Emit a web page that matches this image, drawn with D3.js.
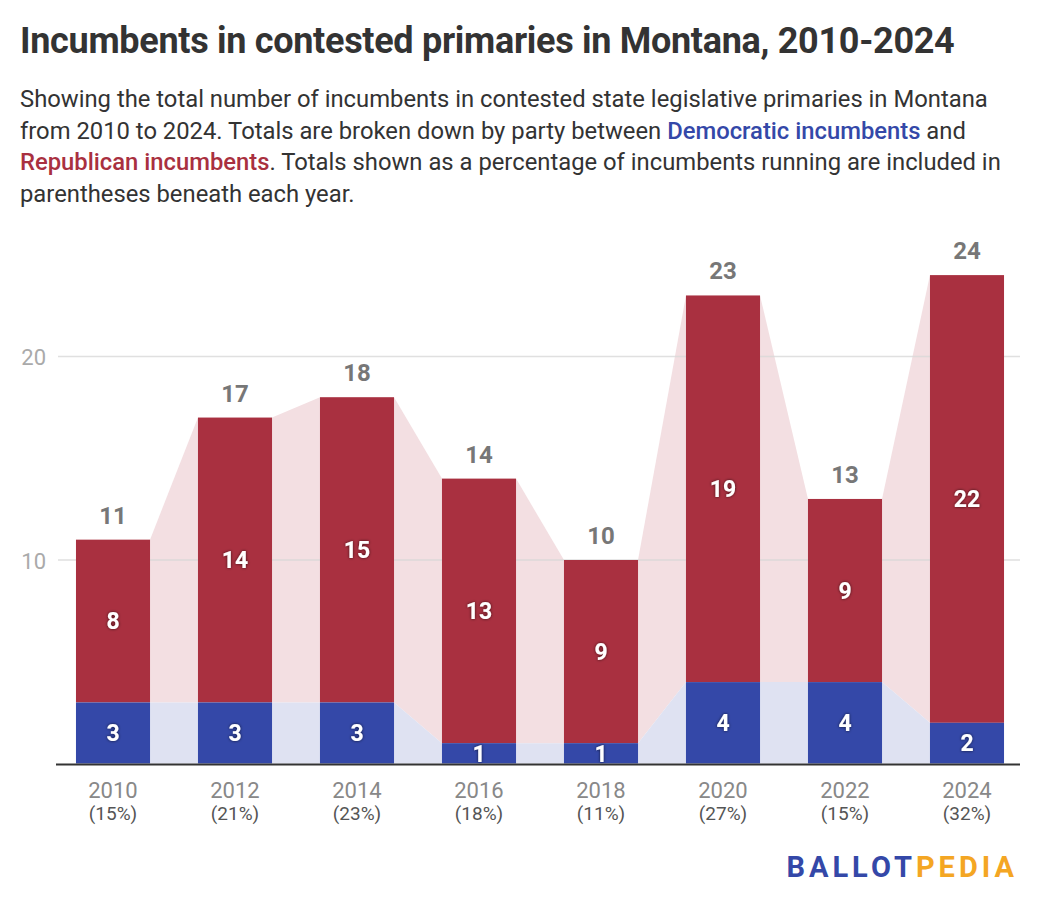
<!DOCTYPE html>
<html>
<head>
<meta charset="utf-8">
<script src="https://cdn.jsdelivr.net/npm/d3@7"></script>
<style>
  body { margin: 0; background: #fff; font-family: Roboto, "Noto Sans", sans-serif; }
  #chart { width: 1040px; height: 912px; position: relative; }
  h1 { position: absolute; left: 20px; top: 20px; margin: 0; font-size: 36px; font-weight: 700; color: #333; letter-spacing: -0.3px; white-space: nowrap; }
  .sub { position: absolute; left: 20px; top: 84px; width: 1000px; margin: 0; font-size: 23.8px; line-height: 31.5px; color: #333; }
  .dem { color: #3448a8; font-weight: 500; }
  .rep { color: #a93040; font-weight: 500; }
  svg { position: absolute; left: 0; top: 0; }
</style>
</head>
<body>
<div id="chart">
  <h1>Incumbents in contested primaries in Montana, 2010-2024</h1>
  <p class="sub">Showing the total number of incumbents in contested state legislative primaries in Montana from 2010 to 2024. Totals are broken down by party between <span class="dem">Democratic incumbents</span> and <span class="rep">Republican incumbents</span>. Totals shown as a percentage of incumbents running are included in parentheses beneath each year.</p>
</div>
<script>
document.addEventListener("DOMContentLoaded", function() {
    const years = ["2010", "2012", "2014", "2016", "2018", "2020", "2022", "2024"];
    const demValues = [3, 3, 3, 1, 1, 4, 4, 2];
    const repValues = [8, 14, 15, 13, 9, 19, 9, 22];
    const pctLabels = ["15%", "21%", "23%", "18%", "11%", "27%", "15%", "32%"];
    const yTicks = [10, 20];

    const data = years.map((yr, i) => ({
        year: yr, dem: demValues[i], rep: repValues[i],
        total: demValues[i] + repValues[i], pct: pctLabels[i]
    }));

    const demColor = "#3448a8", repColor = "#a93040";
    const demArea = "#dfe2f2", repArea = "#f3dfe2";

    const svg = d3.select("#chart").append("svg")
        .attr("width", 1040)
        .attr("height", 912);

    const x = d3.scaleBand()
        .domain(years)
        .range([52, 1028])
        .paddingInner(0.393)
        .paddingOuter(0.1965);

    const y = d3.scaleLinear()
        .domain([0, 20])
        .range([763.5, 356.5]);

    const bw = x.bandwidth();

    // connector areas between bars
    for (let i = 0; i < data.length - 1; i++) {
        const a = data[i], b = data[i + 1];
        const x0 = x(a.year) + bw, x1 = x(b.year);
        svg.append("path")
            .attr("fill", repArea)
            .attr("d", `M${x0},${y(a.total)}L${x1},${y(b.total)}L${x1},${y(b.dem)}L${x0},${y(a.dem)}Z`);
        svg.append("path")
            .attr("fill", demArea)
            .attr("d", `M${x0},${y(a.dem)}L${x1},${y(b.dem)}L${x1},${y(0)}L${x0},${y(0)}Z`);
    }

    // gridlines
    svg.append("g")
        .selectAll("line")
        .data(yTicks)
        .enter().append("line")
        .attr("x1", 58).attr("x2", 1020)
        .attr("y1", d => y(d)).attr("y2", d => y(d))
        .attr("stroke", "#d8d8d8")
        .attr("stroke-opacity", 0.8)
        .attr("stroke-width", 1.5);

    svg.append("g")
        .selectAll("text")
        .data(yTicks)
        .enter().append("text")
        .attr("x", 46)
        .attr("y", d => y(d) + 8.5)
        .attr("text-anchor", "end")
        .attr("font-size", 22)
        .attr("fill", "#aaa")
        .text(d => d);

    const bars = svg.selectAll("g.bar")
        .data(data)
        .enter().append("g")
        .attr("class", "bar")
        .attr("transform", d => `translate(${x(d.year)},0)`);

    bars.append("rect")
        .attr("y", d => y(d.total))
        .attr("width", bw)
        .attr("height", d => y(d.dem) - y(d.total))
        .attr("fill", repColor);

    bars.append("rect")
        .attr("y", d => y(d.dem))
        .attr("width", bw)
        .attr("height", d => y(0) - y(d.dem))
        .attr("fill", demColor);

    const defs = svg.append("defs");
    const f = defs.append("filter").attr("id", "shadow")
        .attr("x", "-50%").attr("y", "-50%").attr("width", "200%").attr("height", "200%");
    f.append("feDropShadow").attr("dx", 0).attr("dy", 0)
        .attr("stdDeviation", 1.5).attr("flood-color", "#000").attr("flood-opacity", 0.7);

    const inner = (sel, val, mid) => sel.append("text")
        .attr("x", bw / 2)
        .attr("y", mid)
        .attr("dy", "0.36em")
        .attr("text-anchor", "middle")
        .attr("font-size", 23)
        .attr("font-weight", 700)
        .attr("fill", "#fff")
        .attr("filter", "url(#shadow)")
        .text(val);

    inner(bars, d => d.rep, d => (y(d.total) + y(d.dem)) / 2);
    inner(bars, d => d.dem, d => (y(d.dem) + y(0)) / 2);

    bars.append("text")
        .attr("x", bw / 2)
        .attr("y", d => y(d.total) - 16)
        .attr("text-anchor", "middle")
        .attr("font-size", 24)
        .attr("font-weight", 700)
        .attr("fill", "#777")
        .text(d => d.total);

    // x axis
    svg.append("line")
        .attr("x1", 56).attr("x2", 1020)
        .attr("y1", y(0) + 1).attr("y2", y(0) + 1)
        .attr("stroke", "#333").attr("stroke-width", 2);

    bars.append("text")
        .attr("x", bw / 2)
        .attr("y", 798)
        .attr("text-anchor", "middle")
        .attr("font-size", 22)
        .attr("fill", "#888")
        .text(d => d.year);

    bars.append("text")
        .attr("x", bw / 2)
        .attr("y", 820)
        .attr("text-anchor", "middle")
        .attr("font-size", 19)
        .attr("fill", "#555")
        .text(d => `(${d.pct})`);

    const logo = svg.append("text")
        .attr("x", 1018)
        .attr("y", 877)
        .attr("text-anchor", "end")
        .attr("font-size", 29)
        .attr("font-weight", 700)
        .attr("letter-spacing", 4);
    logo.append("tspan").attr("fill", "#3448a8").text("BALLOT");
    logo.append("tspan").attr("fill", "#f4a623").text("PEDIA");
});
</script>
</body>
</html>
